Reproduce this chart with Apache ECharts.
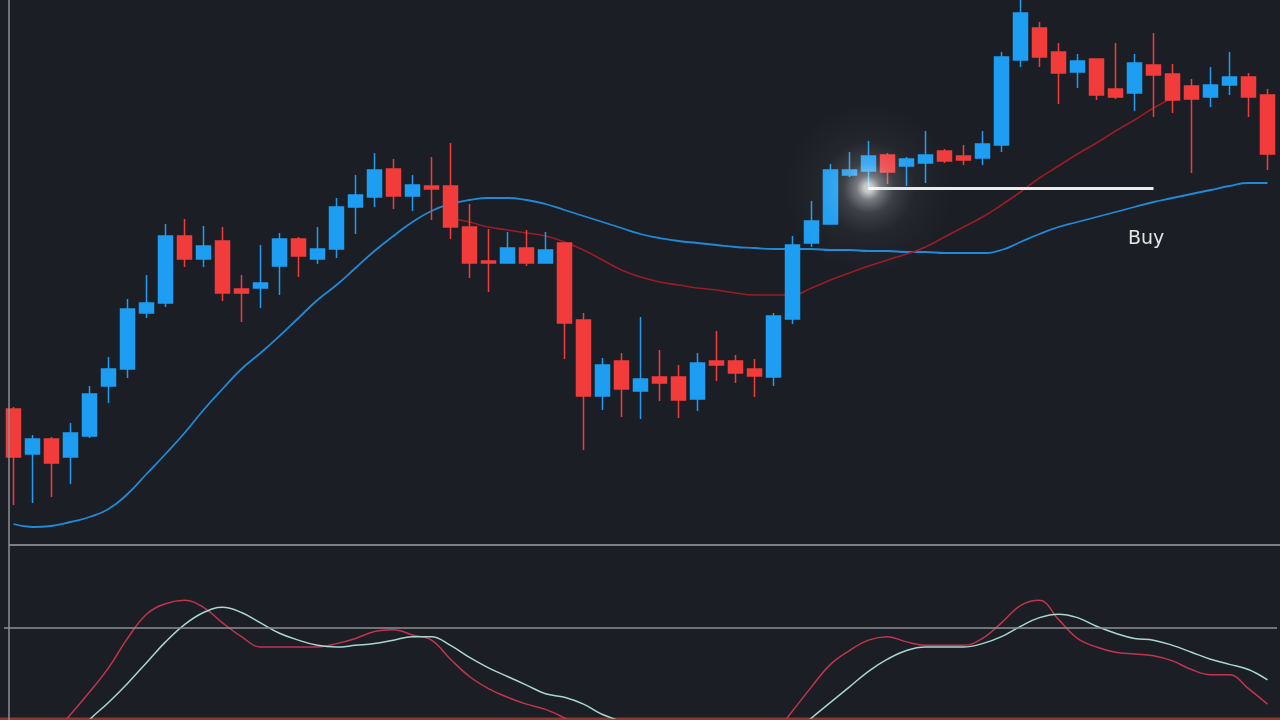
<!DOCTYPE html>
<html>
<head>
<meta charset="utf-8">
<script src="https://cdn.jsdelivr.net/npm/echarts@6/dist/echarts.min.js"></script>
<style>
html,body{margin:0;padding:0;background:#1b1e24;}
#chart{width:1280px;height:720px;}
</style>
</head>
<body>
<div id="chart"></div>
<script>
// ---- DATA ----
// candles: [open, close, low, high]
const candles = [
 [131,83,35,133],[86,101,37,105],[101,77,43,103],[83,107,56,117],[104,146,102,154],
 [154,171,137,183],[171,231,162,241],[227,237,222,265],[237,304,233,316],[304,281,273,321],
 [281,294,273,314],[299,247,239,313],[251,247,218,265],[252,257,232,295],[274,301,245,307],
 [301,284,263,303],[281,291,276,313],[291,333,282,342],[333,345,306,365],[343,370,333,387],
 [371,344,331,381],[344,355,329,365],[354,351,320,383],[354,313,301,397],[313,277,262,336],
 [279,277,248,311],[277,292,277,308],[292,277,274,310],[277,290,277,308],[297,217,181,297],
 [220,144,90,227],[144,175,130,182],[179,151,123,187],[149,161,121,223],[163,157,139,190],
 [163,140,122,175],[141,177,129,187],[179,175,159,209],[179,167,157,185],[171,164,143,181],
 [163,224,154,227],[221,295,216,304],[297,319,293,339],[316,370,316,376],[365,370,363,388],
 [369,384,350,399],[385,368,356,387],[374,381,354,383],[377,385,357,409],[389,379,377,391],
 [384,380,375,395],[382,396,375,409],[395,483,388,488],[480,527,473,540],[512,483,473,518],
 [488,467,436,497],[468,479,452,486],[481,445,440,481],[451,443,441,497],[447,477,429,486],
 [475,465,423,507],[466,440,427,476],[454,441,367,461],[443,455,433,473],[455,463,445,488],
 [463,443,423,467],[445,386,370,451]
];
const categories = candles.map((_, i) => 'D' + (i + 1));

const maSlow = [16,13,14,18,23,31,46,66,86,107,130,151,171,187,204,222,240,255,272,289,
 304,318,329,336,340,342,342,340,336,330,324,318,312,306,302,299,297,295,293,292,
 291,291,291,290,290,289,289,288,288,287,287,287,290,298,306,313,318,323,328,333,
 338,342,346,350,354,357,357];

const maFast = ['-','-','-','-','-','-','-','-','-','-','-','-','-','-','-','-','-','-','-','-',
 '-','-','-',322,318,313,310,307,304,298,290,280,270,263,258,255,252,250,247,245,
 245,245,252,260,267,274,280,286,293,303,313,323,335,348,362,374,386,397,409,420,
 432,442,'-','-','-','-','-'];

const oscFast = ['-','-',-10,2,15,29,46,60,66,68,64,55,47,41,41,41,41,43,46,50,
 51,48,45,34,24,17,12,8,5,0,-7,'-','-','-','-','-','-','-','-','-',
 -10,4,18,31,39,45,47,44,42,42,42,46,55,65,68,57,46,41,38,37,
 36,33,28,25,25,17,8];

const oscSlow = ['-','-','-',-13,-1,9,20,32,44,54,61,64,61,55,49,45,42,41,42,43,
 45,47,47,42,35,29,24,19,14,12,8,2,-2,-7,'-','-','-','-','-','-',
 '-',-10,0,9,18,27,34,39,41,41,41,43,47,53,58,60,58,53,49,46,
 45,42,38,34,31,28,22];

const oscLevel = 52;
const buyLevel = 352;
const buyStart = 45;
const buyEnd = 60;
const buyLabel = 'Buy';

// ---- CHART ----
const chart = echarts.init(document.getElementById('chart'), null, {renderer: 'canvas'});
const UP = '#1e9ef2', DOWN = '#f23c3c';

chart.setOption({
  backgroundColor: '#1b1e24',
  animation: false,
  grid: [
    {left: 4, right: 3, top: 0, height: 540},
    {left: 4, right: 3, top: 545, height: 173}
  ],
  xAxis: [
    {type: 'category', data: categories, gridIndex: 0, boundaryGap: true, show: false},
    {type: 'category', data: categories, gridIndex: 1, boundaryGap: true, show: false}
  ],
  yAxis: [
    {type: 'value', gridIndex: 0, min: 0, max: 540, show: false},
    {type: 'value', gridIndex: 1, min: 0, max: 100, show: false}
  ],
  graphic: [
    {type: 'line', shape: {x1: 9, y1: 0, x2: 9, y2: 720}, style: {stroke: '#8c9096', lineWidth: 1.5}, z: 10},
    {type: 'line', shape: {x1: 9, y1: 545, x2: 1280, y2: 545}, style: {stroke: '#9ea2a6', lineWidth: 1.5}, z: 1},
    {type: 'line', shape: {x1: 0, y1: 719, x2: 1280, y2: 719}, style: {stroke: '#8a3a33', lineWidth: 3}, z: 1},
    {type: 'text', left: 1128, top: 230, style: {text: buyLabel, fill: '#e4e4e4', font: '19px "DejaVu Sans", sans-serif'}, z: 10}
  ],
  series: [
    {
      type: 'line', xAxisIndex: 0, yAxisIndex: 0, data: maSlow, smooth: 0.5,
      showSymbol: false, lineStyle: {color: '#1f8ad8', width: 1.8}, z: 2
    },
    {
      type: 'line', xAxisIndex: 0, yAxisIndex: 0, data: maFast, smooth: 0.5,
      showSymbol: false, lineStyle: {color: '#9a1c26', width: 1.6}, z: 2
    },
    {
      type: 'candlestick', xAxisIndex: 0, yAxisIndex: 0, data: candles, barWidth: 14,
      itemStyle: {color: UP, color0: DOWN, borderColor: UP, borderColor0: DOWN, borderWidth: 1.5},
      z: 3,
      markLine: {
        silent: true, symbol: ['none', 'none'], label: {show: false},
        lineStyle: {color: '#ececec', width: 3, type: 'solid'},
        data: [[{coord: [buyStart, buyLevel]}, {coord: [buyEnd, buyLevel]}]]
      }
    },
    {
      type: 'scatter', xAxisIndex: 0, yAxisIndex: 0, data: [[buyStart, buyLevel]],
      symbolSize: 170, silent: true, z: 5,
      itemStyle: {
        color: new echarts.graphic.RadialGradient(0.5, 0.5, 0.5, [
          {offset: 0, color: 'rgba(255,255,255,1)'},
          {offset: 0.05, color: 'rgba(255,255,255,0.95)'},
          {offset: 0.14, color: 'rgba(240,244,248,0.55)'},
          {offset: 0.3, color: 'rgba(215,222,230,0.22)'},
          {offset: 0.55, color: 'rgba(200,210,220,0.06)'},
          {offset: 1, color: 'rgba(200,210,220,0)'}
        ])
      }
    },
    {
      type: 'line', xAxisIndex: 1, yAxisIndex: 1, data: oscFast, smooth: 0.4,
      showSymbol: false, lineStyle: {color: '#c23450', width: 1.5}, z: 2,
      markLine: {
        silent: true, symbol: ['none', 'none'], label: {show: false},
        lineStyle: {color: '#8e9296', width: 1.5, type: 'solid'},
        data: [{yAxis: oscLevel}]
      }
    },
    {
      type: 'line', xAxisIndex: 1, yAxisIndex: 1, data: oscSlow, smooth: 0.4,
      showSymbol: false, lineStyle: {color: '#a9d6cf', width: 1.5}, z: 2
    }
  ]
});
</script>
</body>
</html>
